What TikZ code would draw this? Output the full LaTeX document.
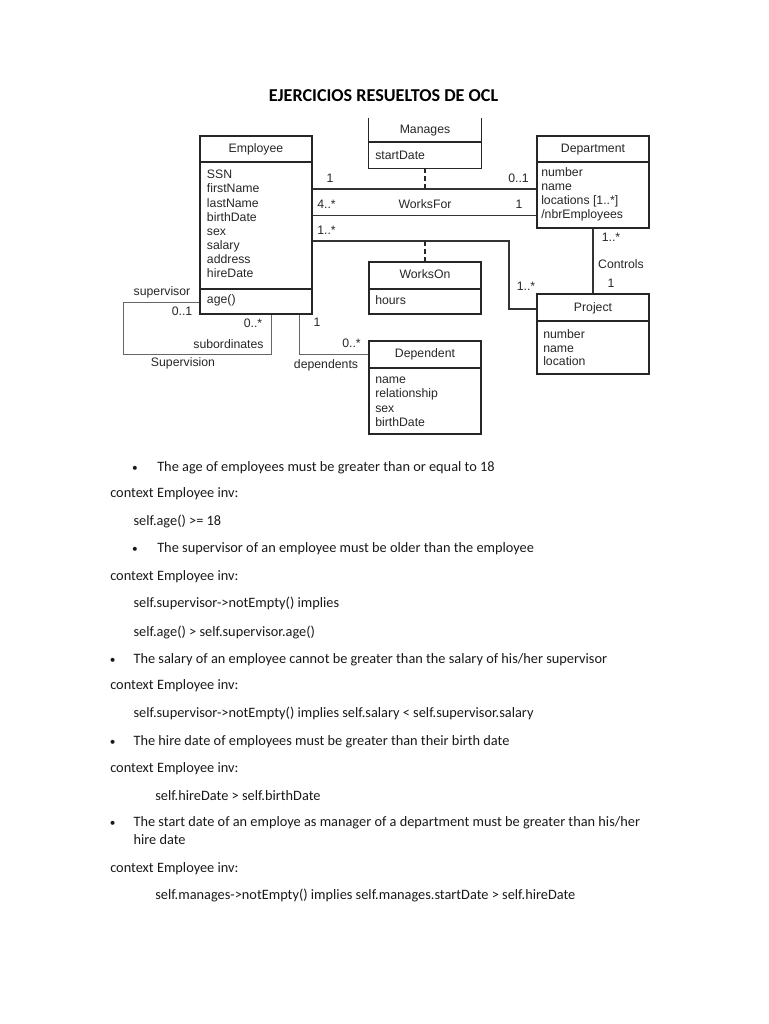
\documentclass[tikz,border=0pt]{standalone}
\usepackage{fontspec}
\setmainfont{Carlito}
\newfontfamily\umlfont{Liberation Sans}
\usetikzlibrary{calc,fit}

\tikzset{
  box/.style={draw=black!85, inner sep=0pt, line width=0.8pt},
  sep/.style={draw=black!85, line width=0.8pt},
  assoc/.style={draw=black!80, line width=0.8pt},
  link/.style={draw=black!60, line width=0.7pt},
  dotline/.style={draw=black!85, line width=0.8pt, dash pattern=on 3.5pt off 2.5pt},
  uml/.style={inner sep=0pt, text=black!85, font=\umlfont\fontsize{9.2}{11}\selectfont},
  cname/.style={uml, anchor=base},
  attr/.style={uml, anchor=base west},
  mult/.style={uml, anchor=base},
  txt/.style={anchor=base west, inner sep=0pt, text=black!90, font=\fontsize{10.75}{12}\selectfont},
  dot/.style={anchor=base, inner sep=0pt, text=black!90, font=\fontsize{8.5}{10}\selectfont},
}

\begin{document}
\begin{tikzpicture}[x=0.75pt,y=-0.75pt]
\pgfmathsetmacro{\dy}{14.1} % set attribute spacing

\useasboundingbox (0,0) rectangle (768,1024);

% title
\node[anchor=base, inner sep=0pt, font=\bfseries\fontsize{13.6}{16}\selectfont] (title) at (383.5,101.5) {EJERCICIOS RESUELTOS DE OCL};

% class boxes
\node[box, fit={(200,136) (312,314)}] (emp) {};
\node[inner sep=0pt, fit={(369,118) (481,168)}] (mng) {};
\node[box, fit={(369,262) (481,314)}] (wo) {};
\node[box, fit={(537,136) (649,228)}] (dept) {};
\node[box, fit={(537,294) (649,374)}] (proj) {};
\node[box, fit={(369,341) (481,434)}] (dpd) {};

% manages box is open at the top
\draw[sep] (mng.north west) |- (mng.south east) -- (mng.north east);

% compartment lines
\draw[sep] (emp.west |- 0,162) -- (emp.east |- 0,162);
\draw[sep] (emp.west |- 0,289) -- (emp.east |- 0,289);
\draw[sep] (mng.west |- 0,142) -- (mng.east |- 0,142);
\draw[sep] (wo.west |- 0,289) -- (wo.east |- 0,289);
\draw[sep] (dept.west |- 0,162) -- (dept.east |- 0,162);
\draw[sep] (proj.west |- 0,321) -- (proj.east |- 0,321);
\draw[sep] (dpd.west |- 0,368) -- (dpd.east |- 0,368);

% class names
\node[cname] (emp-n) at (emp.north |- 0,152.3) {Employee};
\node[cname] (mng-n) at (mng.north |- 0,133.3) {Manages};
\node[cname] (wo-n) at (wo.north |- 0,278) {WorksOn};
\node[cname] (dept-n) at (dept.north |- 0,152.3) {Department};
\node[cname] (proj-n) at (proj.north |- 0,311.7) {Project};
\node[cname] (dpd-n) at (dpd.north |- 0,357.3) {Dependent};

% attributes
\foreach \a [count=\i from 0] in {SSN,firstName,lastName,birthDate,sex,salary,address,hireDate}
  \node[attr] (e\i) at (206.7,{178.8+\i*\dy}) {\a};
\node[attr] (e-op) at (206.7,303.5) {age()};
\node[attr] (m0) at (375,159.3) {startDate};
\node[attr] (w0) at (375,304.3) {hours};
\foreach \a [count=\i from 0] in {number,name,{locations [1..*]},/nbrEmployees}
  \node[attr] (d\i) at (541,{176+\i*\dy}) {\a};
\foreach \a [count=\i from 0] in {number,name,location}
  \node[attr] (p\i) at (543,{338.3+\i*13.7}) {\a};
\foreach \a [count=\i from 0] in {name,relationship,sex,birthDate}
  \node[attr] (n\i) at (375,{383.3+\i*14.4}) {\a};

% associations
\coordinate (bend) at (509,241);
\coordinate (sup) at (123.3,354);
\draw[assoc] (emp.east |- 0,189) -- (dept.west |- 0,189);
\draw[assoc] (emp.east |- 0,215.5) -- (dept.west |- 0,215.5);
\draw[assoc] (emp.east |- bend) -- (bend) |- (proj.west |- 0,309);
\draw[assoc] (dept.south) -- (proj.north);
\draw[dotline] (mng.south) -- (mng.south |- 0,189);
\draw[dotline] (wo.north |- bend) -- (wo.north);
\draw[link] (emp.west |- 0,302.3) -| (sup) -| (emp.south -| 271,0);
\draw[link] (emp.south -| 299.3,0) |- (dpd.west |- 0,354.3);

% multiplicities and role names
\node[mult] (l1) at (330,182.7) {1};
\node[mult] (l2) at (518.5,182.7) {0..1};
\node[mult] (l3) at (326.5,208.5) {4..*};
\node[mult] (l4) at (425,208.5) {WorksFor};
\node[mult] (l5) at (519,208.5) {1};
\node[mult] (l6) at (326.5,234.5) {1..*};
\node[mult] (l7) at (611,241.7) {1..*};
\node[mult] (l8) at (621,268) {Controls};
\node[mult] (l9) at (611,287.3) {1};
\node[mult] (l10) at (526,290) {1..*};
\node[mult] (l11) at (162,295) {supervisor};
\node[mult] (l12) at (182,315) {0..1};
\node[mult] (l13) at (253,327.7) {0..*};
\node[mult] (l14) at (228.5,348.3) {subordinates};
\node[mult] (l15) at (183,366.7) {Supervision};
\node[mult] (l16) at (317,326.7) {1};
\node[mult] (l17) at (351.5,347.3) {0..*};
\node[mult] (l18) at (326,368.3) {dependents};

% constraints text
\node[dot] (b1) at (135,471.7) {•};
\node[txt] (t1) at (157,471.7) {The age of employees must be greater than or equal to 18};
\node[txt] (c1) at (110,497.7) {context Employee inv:};
\node[txt] (s1) at (133.3,525) {self.age() >= 18};
\node[dot] (b2) at (135,552.7) {•};
\node[txt] (t2) at (157,552.7) {The supervisor of an employee must be older than the employee};
\node[txt] (c2) at (110,580.7) {context Employee inv:};
\node[txt] (s2) at (133.3,607.3) {self.supervisor->notEmpty() implies};
\node[txt] (s3) at (133.3,636) {self.age() > self.supervisor.age()};
\node[dot] (b3) at (112.7,663.3) {•};
\node[txt] (t3) at (133.3,663.3) {The salary of an employee cannot be greater than the salary of his/her supervisor};
\node[txt] (c3) at (110,689.8) {context Employee inv:};
\node[txt] (s4) at (133.3,717) {self.supervisor->notEmpty() implies self.salary < self.supervisor.salary};
\node[dot] (b4) at (112.7,745) {•};
\node[txt] (t4) at (133.3,745) {The hire date of employees must be greater than their birth date};
\node[txt] (c4) at (110,772.2) {context Employee inv:};
\node[txt] (s5) at (155,800) {self.hireDate > self.birthDate};
\node[dot] (b5) at (112.7,826.7) {•};
\node[txt] (t5) at (133.3,826.7) {The start date of an employe as manager of a department must be greater than his/her};
\node[txt] (t6) at (133.3,844.5) {hire date};
\node[txt] (c5) at (110,872) {context Employee inv:};
\node[txt] (s6) at (155,899) {self.manages->notEmpty() implies self.manages.startDate > self.hireDate};

\end{tikzpicture}
\end{document}
